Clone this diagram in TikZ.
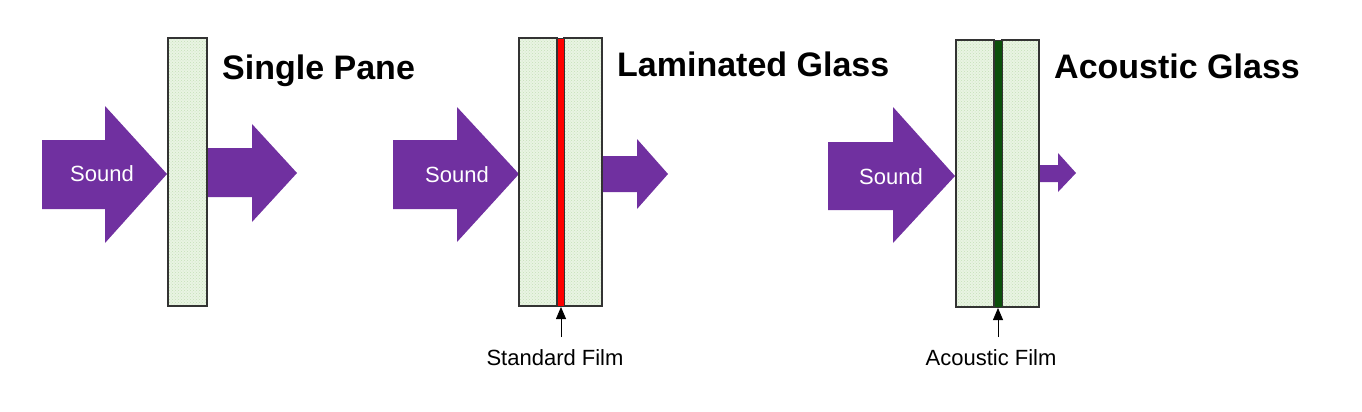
\documentclass[tikz,border=0pt]{standalone}
\usepackage{fontspec}
\setmainfont{Liberation Sans}
\usetikzlibrary{arrows.meta,patterns}
\definecolor{snd}{HTML}{7030A0}
\definecolor{glassfill}{HTML}{E9F4E3}
\definecolor{glassdot}{HTML}{C5E0B8}
\definecolor{filmred}{HTML}{FF0000}
\definecolor{filmgreen}{HTML}{0B4F0B}
\begin{document}
\begin{tikzpicture}[x=1pt,y=-1pt,
  glass/.style={fill=glassfill,
    postaction={pattern=crosshatch dots,pattern color=glassdot},
    postaction={draw=black!80,line width=1.2pt}},
  film/.style={draw=black!80,line width=0.8pt},
  soundarrow/.style={fill=snd,draw=none},
  soundtxt/.style={text=white,font=\fontsize{22}{26}\selectfont},
  title/.style={anchor=base west,inner sep=0pt,font=\fontsize{34}{40}\selectfont\bfseries},
  filmlbl/.style={inner sep=0pt,font=\fontsize{22}{26}\selectfont},
  lblarrow/.style={-{Triangle[width=10pt,length=12pt]},line width=0.8pt}]
\useasboundingbox (0,0) rectangle (1362,412);

% ---------- Single pane ----------
\fill[soundarrow] (42,140) -- (105,140) -- (105,106) -- (167,174) -- (105,243) -- (105,209) -- (42,209) -- cycle;
\fill[soundarrow] (207,148) -- (252,148) -- (252,124) -- (297,173) -- (252,222) -- (252,197) -- (207,197) -- cycle;
\path[glass] (168,38) rectangle (207,306);
\node[soundtxt] (s1) at (102,174) {Sound};
\node[title] (t1) at (222,80) {Single Pane};

% ---------- Laminated glass ----------
\fill[soundarrow] (393,140) -- (457,140) -- (457,107) -- (519,174) -- (457,242) -- (457,209) -- (393,209) -- cycle;
\fill[soundarrow] (603,156) -- (637,156) -- (637,139) -- (668,174) -- (637,209) -- (637,192) -- (603,192) -- cycle;
\path[glass] (519,38) rectangle (557,306);
\path[glass] (564,38) rectangle (602,306);
\draw[film,fill=filmred] (557,38) rectangle (564,306);
\coordinate (f2) at (561,307);
\node[soundtxt] (s2) at (457,175) {Sound};
\node[title] (t2) at (617,77) {Laminated Glass};
\node[filmlbl] (l2) at (555,358) {Standard Film};
\coordinate (l2top) at (561,337);
\draw[lblarrow] (l2top) -- (f2);

% ---------- Acoustic glass ----------
\fill[soundarrow] (828,142) -- (893,142) -- (893,107) -- (955,176) -- (893,243) -- (893,210) -- (828,210) -- cycle;
\fill[soundarrow] (1040,165) -- (1058,165) -- (1058,153) -- (1076,173) -- (1058,192) -- (1058,182) -- (1040,182) -- cycle;
\path[glass] (956,40) rectangle (994,307);
\path[glass] (1002,40) rectangle (1039,307);
\draw[film,fill=filmgreen] (994,40) rectangle (1002,307);
\coordinate (f3) at (998,308);
\node[soundtxt] (s3) at (891,177) {Sound};
\node[title] (t3) at (1054,78) {Acoustic Glass};
\node[filmlbl] (l3) at (991,358) {Acoustic Film};
\coordinate (l3top) at (998,337);
\draw[lblarrow] (l3top) -- (f3);
\end{tikzpicture}
\end{document}
